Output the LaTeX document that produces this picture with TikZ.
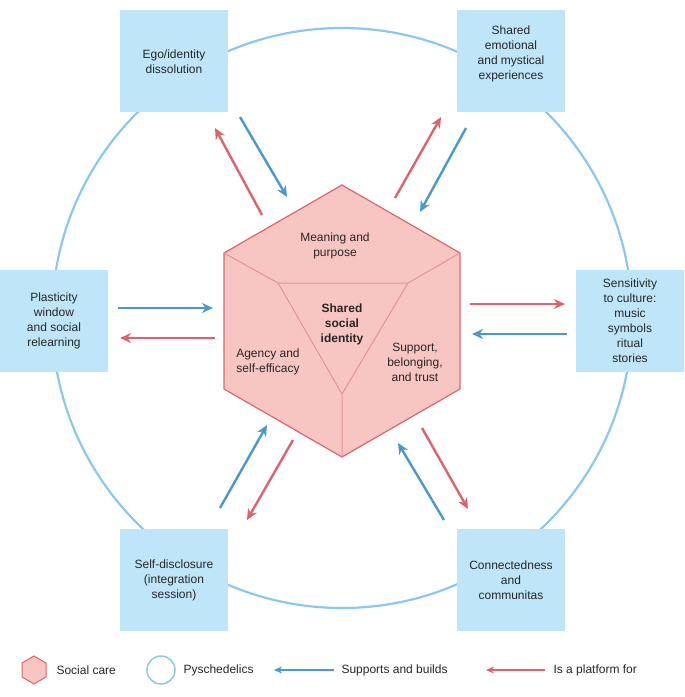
\documentclass[tikz,border=0pt]{standalone}
\usepackage{fontspec}
\setmainfont{Liberation Sans}
\usetikzlibrary{arrows.meta}
\begin{document}
\begin{tikzpicture}[x=1pt,y=-1pt,
  every node/.style={font=\fontsize{12}{15}\selectfont,align=center,text=black!85},
  box/.style={fill=bx,minimum width=108pt,minimum height=102pt,inner sep=2pt},
  ba/.style={draw=bl,line width=2.4pt,-{Stealth[length=11pt,width=10pt]}},
  ra/.style={draw=rd,line width=2.4pt,-{Stealth[length=11pt,width=10pt]}}]
\definecolor{bx}{HTML}{BFE6F8}
\definecolor{bl}{HTML}{4A98CC}
\definecolor{rd}{HTML}{DB656B}
\definecolor{hx}{HTML}{F8C6C2}
\definecolor{cl}{HTML}{8CC8EC}
\useasboundingbox (0,0) rectangle (685,697);
\draw[cl,line width=2.2pt] (342,318) circle (290);
\node[box] (ego) at (174,61) {};
\node at (174,62) {Ego/identity\\dissolution};
\node[box] (emo) at (511,61) {};
\node at (511,54) {Shared\\emotional\\and mystical\\experiences};
\node[box] (pla) at (54,321) {Plasticity\\window\\and social\\relearning};
\node[box] (sen) at (630,321) {Sensitivity\\to culture:\\music\\symbols\\ritual\\stories};
\node[box] (sel) at (174,580) {Self-disclosure\\(integration\\session)};
\node[box] (con) at (511,580) {Connectedness\\and\\communitas};
\draw[rd,fill=hx,line width=1.2pt] (342,185)--(460,253)--(460,389)--(342,457)--(224,389)--(224,253)--cycle;
\draw[rd!70,line width=1pt] (278,283)--(408,283)--(342,394)--cycle (278,283)--(224,253) (408,283)--(460,253) (342,394)--(342,457);
\node (hub) at (342,324) {\textbf{Shared}\\\textbf{social}\\\textbf{identity}};
\node at (335,246) {Meaning and\\purpose};
\node at (268,362) {Agency and\\self-efficacy};
\node at (415,362) {Support,\\belonging,\\and trust};
\coordinate (e1) at (262,215); \coordinate (e2) at (215,128);
\coordinate (e3) at (240,117); \coordinate (e4) at (287,197);
\draw[ra] (e1)--(e2); \draw[ba] (e3)--(e4);
\coordinate (m1) at (395,198); \coordinate (m2) at (441,117);
\coordinate (m3) at (466,128); \coordinate (m4) at (420,212);
\draw[ra] (m1)--(m2); \draw[ba] (m3)--(m4);
\coordinate (p1) at (118,308); \coordinate (p2) at (213,308);
\coordinate (p3) at (215,338); \coordinate (p4) at (120,338);
\draw[ba] (p1)--(p2); \draw[ra] (p3)--(p4);
\coordinate (s1) at (470,304); \coordinate (s2) at (565,304);
\coordinate (s3) at (567,334); \coordinate (s4) at (472,334);
\draw[ra] (s1)--(s2); \draw[ba] (s3)--(s4);
\coordinate (d1) at (220,508); \coordinate (d2) at (267,425);
\coordinate (d3) at (293,440); \coordinate (d4) at (247,520);
\draw[ba] (d1)--(d2); \draw[ra] (d3)--(d4);
\coordinate (c1) at (422,428); \coordinate (c2) at (468,509);
\coordinate (c3) at (444,520); \coordinate (c4) at (398,443);
\draw[ra] (c1)--(c2); \draw[ba] (c3)--(c4);
% legend
\draw[rd,fill=hx,line width=1pt] (34,656)--(46,663)--(46,677)--(34,684)--(22,677)--(22,663)--cycle;
\node[anchor=west] (l1) at (53,670) {Social care};
\draw[cl,line width=1.5pt,fill=white] (161,670) circle (14);
\node[anchor=west] (l2) at (180,670) {Pyschedelics};
\coordinate (a1) at (334,670); \coordinate (a2) at (274,670);
\draw[ba,line width=1.8pt,-{Stealth[length=8pt,width=7pt]}] (a1)--(a2);
\node[anchor=west] (l3) at (338,670) {Supports and builds};
\coordinate (b1) at (545,670); \coordinate (b2) at (486,670);
\draw[ra,line width=1.8pt,-{Stealth[length=8pt,width=7pt]}] (b1)--(b2);
\node[anchor=west] (l4) at (550,670) {Is a platform for};
\end{tikzpicture}
\end{document}
